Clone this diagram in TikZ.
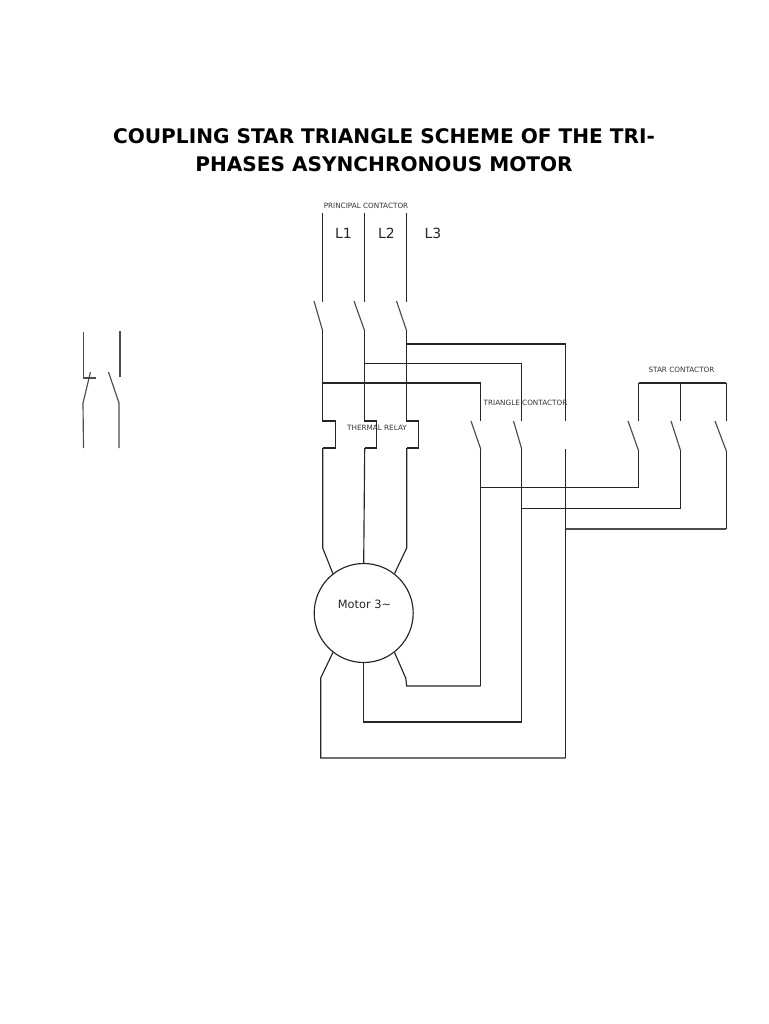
\documentclass[tikz,border=0pt]{standalone}
\usepackage{fontspec}
\setmainfont{DejaVu Sans}
\usetikzlibrary{positioning, calc}

\begin{document}
\begin{tikzpicture}[x=1pt, y=-1pt, wire/.style={draw, line width=1.15pt, black!85},
    blade/.style={draw, line width=1.15pt, black!70},
    small/.style={inner sep=0pt, font=\fontsize{7.25}{9}\selectfont, black!80},
    phase/.style={inner sep=0pt, font=\fontsize{14}{16}\selectfont, black!85}]
   \useasboundingbox (0,0) rectangle (768,1024);

   \node[inner sep=0pt, align=center, font=\bfseries\fontsize{20.1}{28}\selectfont] (title) at (384,150)
      {COUPLING STAR TRIANGLE SCHEME OF THE TRI-\\PHASES ASYNCHRONOUS MOTOR};
   \node[small] (principal) at (366,205.5) {PRINCIPAL CONTACTOR};
   \node[small] (triangle) at (525.5,402.5) {TRIANGLE CONTACTOR};
   \node[small] (thermal) at (377,428) {THERMAL RELAY};
   \node[small] (star) at (681.5,369.5) {STAR CONTACTOR};
   \node[phase] (l1) at (343.5,233) {L1};
   \node[phase] (l2) at (386.5,233) {L2};
   \node[phase] (l3) at (433,233) {L3};

   \node[circle, draw, line width=1.15pt, black!85, minimum size=99pt, inner sep=0pt] (motor) at (363.7,613) {};
   \node[inner sep=0pt, font=\fontsize{11.4}{14}\selectfont, black!85] (motortext) at (364.5,604) {Motor 3\textasciitilde};

   % phase lines, top to motor
   \foreach \name/\px/\qx/\rx in {a/322.7/314/335.7, b/364.7/354/376.7, c/406.7/396.5/418.7} {
      \coordinate (\name-top) at (\px,213);
      \coordinate (\name-in) at (\px,302);
      \coordinate (\name-open) at (\qx,301);
      \coordinate (\name-out) at (\px,331);
      \coordinate (\name-relay) at (\px,421);
      \coordinate (\name-relayr) at (\rx,421);
      \coordinate (\name-relays) at (\rx,448);
      \coordinate (\name-back) at (\px,448);
      \coordinate (\name-low) at (\px,548);
      \path[wire] (\name-top) -- (\name-in);
      \path[blade] (\name-open) -- (\name-out);
      \path[wire] (\name-out) -- (\name-relay) -- (\name-relayr) -- (\name-relays) -- (\name-back);
   }
   \path[wire] (a-back) -- (a-low) -- (motor.128);
   \path[wire] (b-back) -- (motor.north);
   \path[wire] (c-back) -- (c-low) -- (motor.52);

   % triangle contactor
   \foreach \name/\px/\qx/\ty/\by in {d/480.7/471/383/686, e/521.7/513.5/363.5/722, f/565.7/565.7/344/758} {
      \coordinate (\name-top) at (\px,\ty);
      \coordinate (\name-in) at (\px,421);
      \coordinate (\name-open) at (\qx,421);
      \coordinate (\name-out) at (\px,449);
      \coordinate (\name-bot) at (\px,\by);
      \path[wire] (\name-top) -- (\name-in);
      \path[wire] (\name-out) -- (\name-bot);
   }
   \path[blade] (d-open) -- (d-out);
   \path[blade] (e-open) -- (e-out);
   \coordinate (a-bus) at (322.7,383);
   \coordinate (b-bus) at (364,363.5);
   \coordinate (c-bus) at (406,344);
   \path[wire] (a-bus) -- (d-top);
   \path[wire] (b-bus) -- (e-top);
   \path[wire] (c-bus) -- (f-top);

   % back to the motor
   \coordinate (d-corner) at (406.7,686);
   \coordinate (d-bend) at (405.7,678);
   \coordinate (e-corner) at (363.7,722);
   \coordinate (f-corner) at (320.7,758);
   \coordinate (f-bend) at (320.7,678);
   \path[wire] (motor.308) -- (d-bend) -- (d-corner) -- (d-bot);
   \path[wire] (motor.south) -- (e-corner) -- (e-bot);
   \path[wire] (motor.232) -- (f-bend) -- (f-corner) -- (f-bot);

   % star contactor
   \foreach \name/\px/\qx/\by in {g/638.7/628/487.5, h/680.7/671/508.5, i/726.3/715/529} {
      \coordinate (\name-top) at (\px,383);
      \coordinate (\name-in) at (\px,421);
      \coordinate (\name-open) at (\qx,421);
      \coordinate (\name-out) at (\px,451);
      \coordinate (\name-bot) at (\px,\by);
      \path[wire] (\name-top) -- (\name-in);
      \path[blade] (\name-open) -- (\name-out);
      \path[wire] (\name-out) -- (\name-bot);
   }
   \path[wire] (g-top) -- (i-top);
   \coordinate (d-star) at (480.7,487.5);
   \coordinate (e-star) at (521.7,508.5);
   \coordinate (f-star) at (565.7,529);
   \path[wire] (d-star) -- (g-bot);
   \path[wire] (e-star) -- (h-bot);
   \path[blade] (f-star) -- (i-bot);

   % control switches at the left
   \coordinate (s1-top) at (83.5,332);
   \coordinate (s1-in) at (83.5,378);
   \coordinate (s1-dash) at (96,378);
   \coordinate (s1-open) at (90.5,372);
   \coordinate (s1-out) at (83,403);
   \coordinate (s1-bot) at (83.5,448);
   \coordinate (s2-top) at (120,331);
   \coordinate (s2-in) at (120,377);
   \coordinate (s2-open) at (108.5,372);
   \coordinate (s2-out) at (119,403);
   \coordinate (s2-bot) at (119,448);
   \path[blade] (s1-top) -- (s1-in) -- (s1-dash);
   \path[blade] (s1-open) -- (s1-out) -- (s1-bot);
   \path[blade] (s2-top) -- (s2-in);
   \path[blade] (s2-open) -- (s2-out) -- (s2-bot);
\end{tikzpicture}
\end{document}
